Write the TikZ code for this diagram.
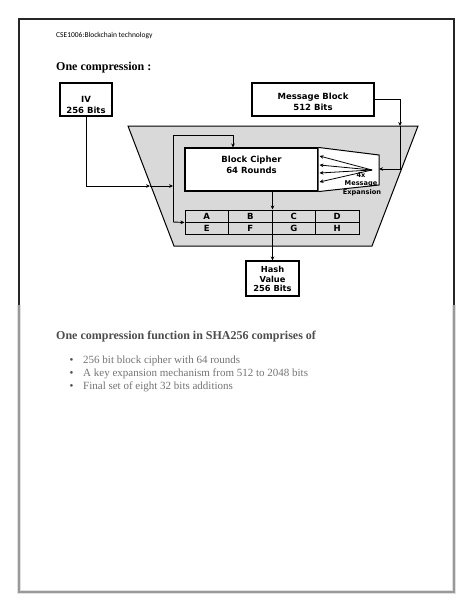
\documentclass[tikz,border=0pt]{standalone}
\usepackage{fontspec}
\setmainfont{Liberation Serif}
\newfontfamily\calfont{Carlito}
\newfontfamily\dvs{DejaVu Sans}
\usetikzlibrary{arrows.meta}

\begin{document}
\begin{tikzpicture}[x=1pt,y=-1pt,
    box/.style={draw,line width=1.1pt,fill=white,inner sep=0pt},
    lbl/.style={font=\dvs\bfseries\fontsize{8.5}{10.5}\selectfont,align=center,inner sep=0pt},
    small/.style={font=\dvs\bfseries\fontsize{6.6}{8}\selectfont,inner sep=0pt},
    cell/.style={draw,line width=1pt,minimum width=43.5pt,minimum height=12pt,inner sep=0pt,font=\dvs\bfseries\fontsize{8.5}{10}\selectfont},
    blur/.style={text=black!55,anchor=base west,inner sep=0pt},
    >={Stealth[length=4pt,width=3.6pt]}]
    \useasboundingbox (0,0) rectangle (474,613);

    % 页面边框
    \draw[line width=1.1pt,black!85] (19,305) -- (19,19) -- (454,19) -- (454,305);
    \draw[black!12,line width=4pt] (19,305) -- (19,592) -- (454,592) -- (454,305);
    \draw[black!40,line width=1.6pt] (19,305) -- (19,592) -- (454,592) -- (454,305);

    \node[anchor=base west,inner sep=0pt,font=\calfont\fontsize{7.5}{9}\selectfont] (course) at (56,37) {CSE1006:Blockchain technology};
    \node[anchor=base west,inner sep=0pt,font=\bfseries\fontsize{12}{14}\selectfont] (head) at (56,70) {One compression :};

    % 灰色梯形
    \filldraw[fill=black!15,line width=1pt] (128,126) -- (418,126) -- (372,246) -- (174,246) -- cycle;

    \node[box,minimum width=52pt,minimum height=33pt] (iv) at (86,99.5) {};
    \node[lbl] (ivtxt) at (86,105) {IV\\256 Bits};
    \node[box,minimum width=122pt,minimum height=33pt] (msg) at (313,99.5) {};
    \node[lbl] (msgtxt) at (313,102) {Message Block\\512 Bits};
    \node[box,minimum width=133pt,minimum height=43pt] (cipher) at (251.5,169.5) {};
    \node[lbl] (ciphertxt) at (251.5,165) {Block Cipher\\64 Rounds};
    \node[box,minimum width=53pt,minimum height=35pt] (hash) at (272.5,278.5) {};
    \node[lbl,font=\dvs\bfseries\fontsize{8.3}{9.6}\selectfont] (hashtxt) at (272.5,279) {Hash\\Value\\256 Bits};

    % 寄存器 A--H
    \foreach \r [count=\i] in {A,B,C,D}
        \node[cell] (r\r) at ({163.25+43.5*\i},216) {\r};
    \foreach \r [count=\i] in {E,F,G,H}
        \node[cell] (r\r) at ({163.25+43.5*\i},228) {\r};

    % 消息扩展
    \coordinate (extop) at (379,155);
    \coordinate (exbot) at (379,185);
    \coordinate (exin) at (379,169);
    \coordinate (fan) at (372,170);
    \filldraw[fill=white,line width=1pt] (cipher.north east) -- (extop) -- (exbot) -- (cipher.south east);
    \foreach \y in {156,165,173,182}
        \draw[->,line width=0.8pt] (fan) -- (319.5,\y);
    \node[small] (fourx) at (361,175) {4x};
    \node[small] (mexp) at (361,184) {Message};
    \node[small] (expn) at (362,193) {Expansion};

    % IV 的连线
    \coordinate (ivedge) at (150,186);
    \coordinate (loopmid) at (173,186);
    \coordinate (looptop) at (173,135);
    \coordinate (loopbot) at (173,222);
    \draw[->,line width=0.9pt] (iv.south) |- (ivedge);
    \draw[->,line width=0.9pt] (ivedge) -- (loopmid);
    \draw[line width=0.9pt] (looptop) -- (loopbot);
    \draw[->,line width=0.9pt] (looptop) -| ([xshift=-18.5pt]cipher.north);
    \draw[->,line width=0.9pt] (loopbot) -- (rA.south west);

    % 消息块的连线
    \coordinate (medge) at (400,126);
    \draw[->,line width=0.9pt] (msg.east) -| (medge);
    \draw[->,line width=0.9pt] (medge) |- (exin);

    \draw[->,line width=0.9pt] (cipher.south -| rB.north east) -- (rB.north east);
    \draw[->,line width=0.9pt] (rF.south east) -- (rF.south east |- hash.north);

    % 模糊部分
    \node[blur,font=\bfseries\fontsize{12}{14}\selectfont,text=black!70] (sumhead) at (56,339) {One compression function in SHA256 comprises of};
    \foreach \t [count=\i] in {256 bit block cipher with 64 rounds,A key expansion mechanism from 512 to 2048 bits,Final set of eight 32 bits additions} {
        \node[blur,font=\fontsize{11}{13}\selectfont,text=black!70] (dot\i) at (69.5,{350+13*\i}) {\textbullet};
        \node[blur,font=\fontsize{11}{13}\selectfont] (item\i) at (83,{350+13*\i}) {\t};
    }
\end{tikzpicture}
\end{document}
